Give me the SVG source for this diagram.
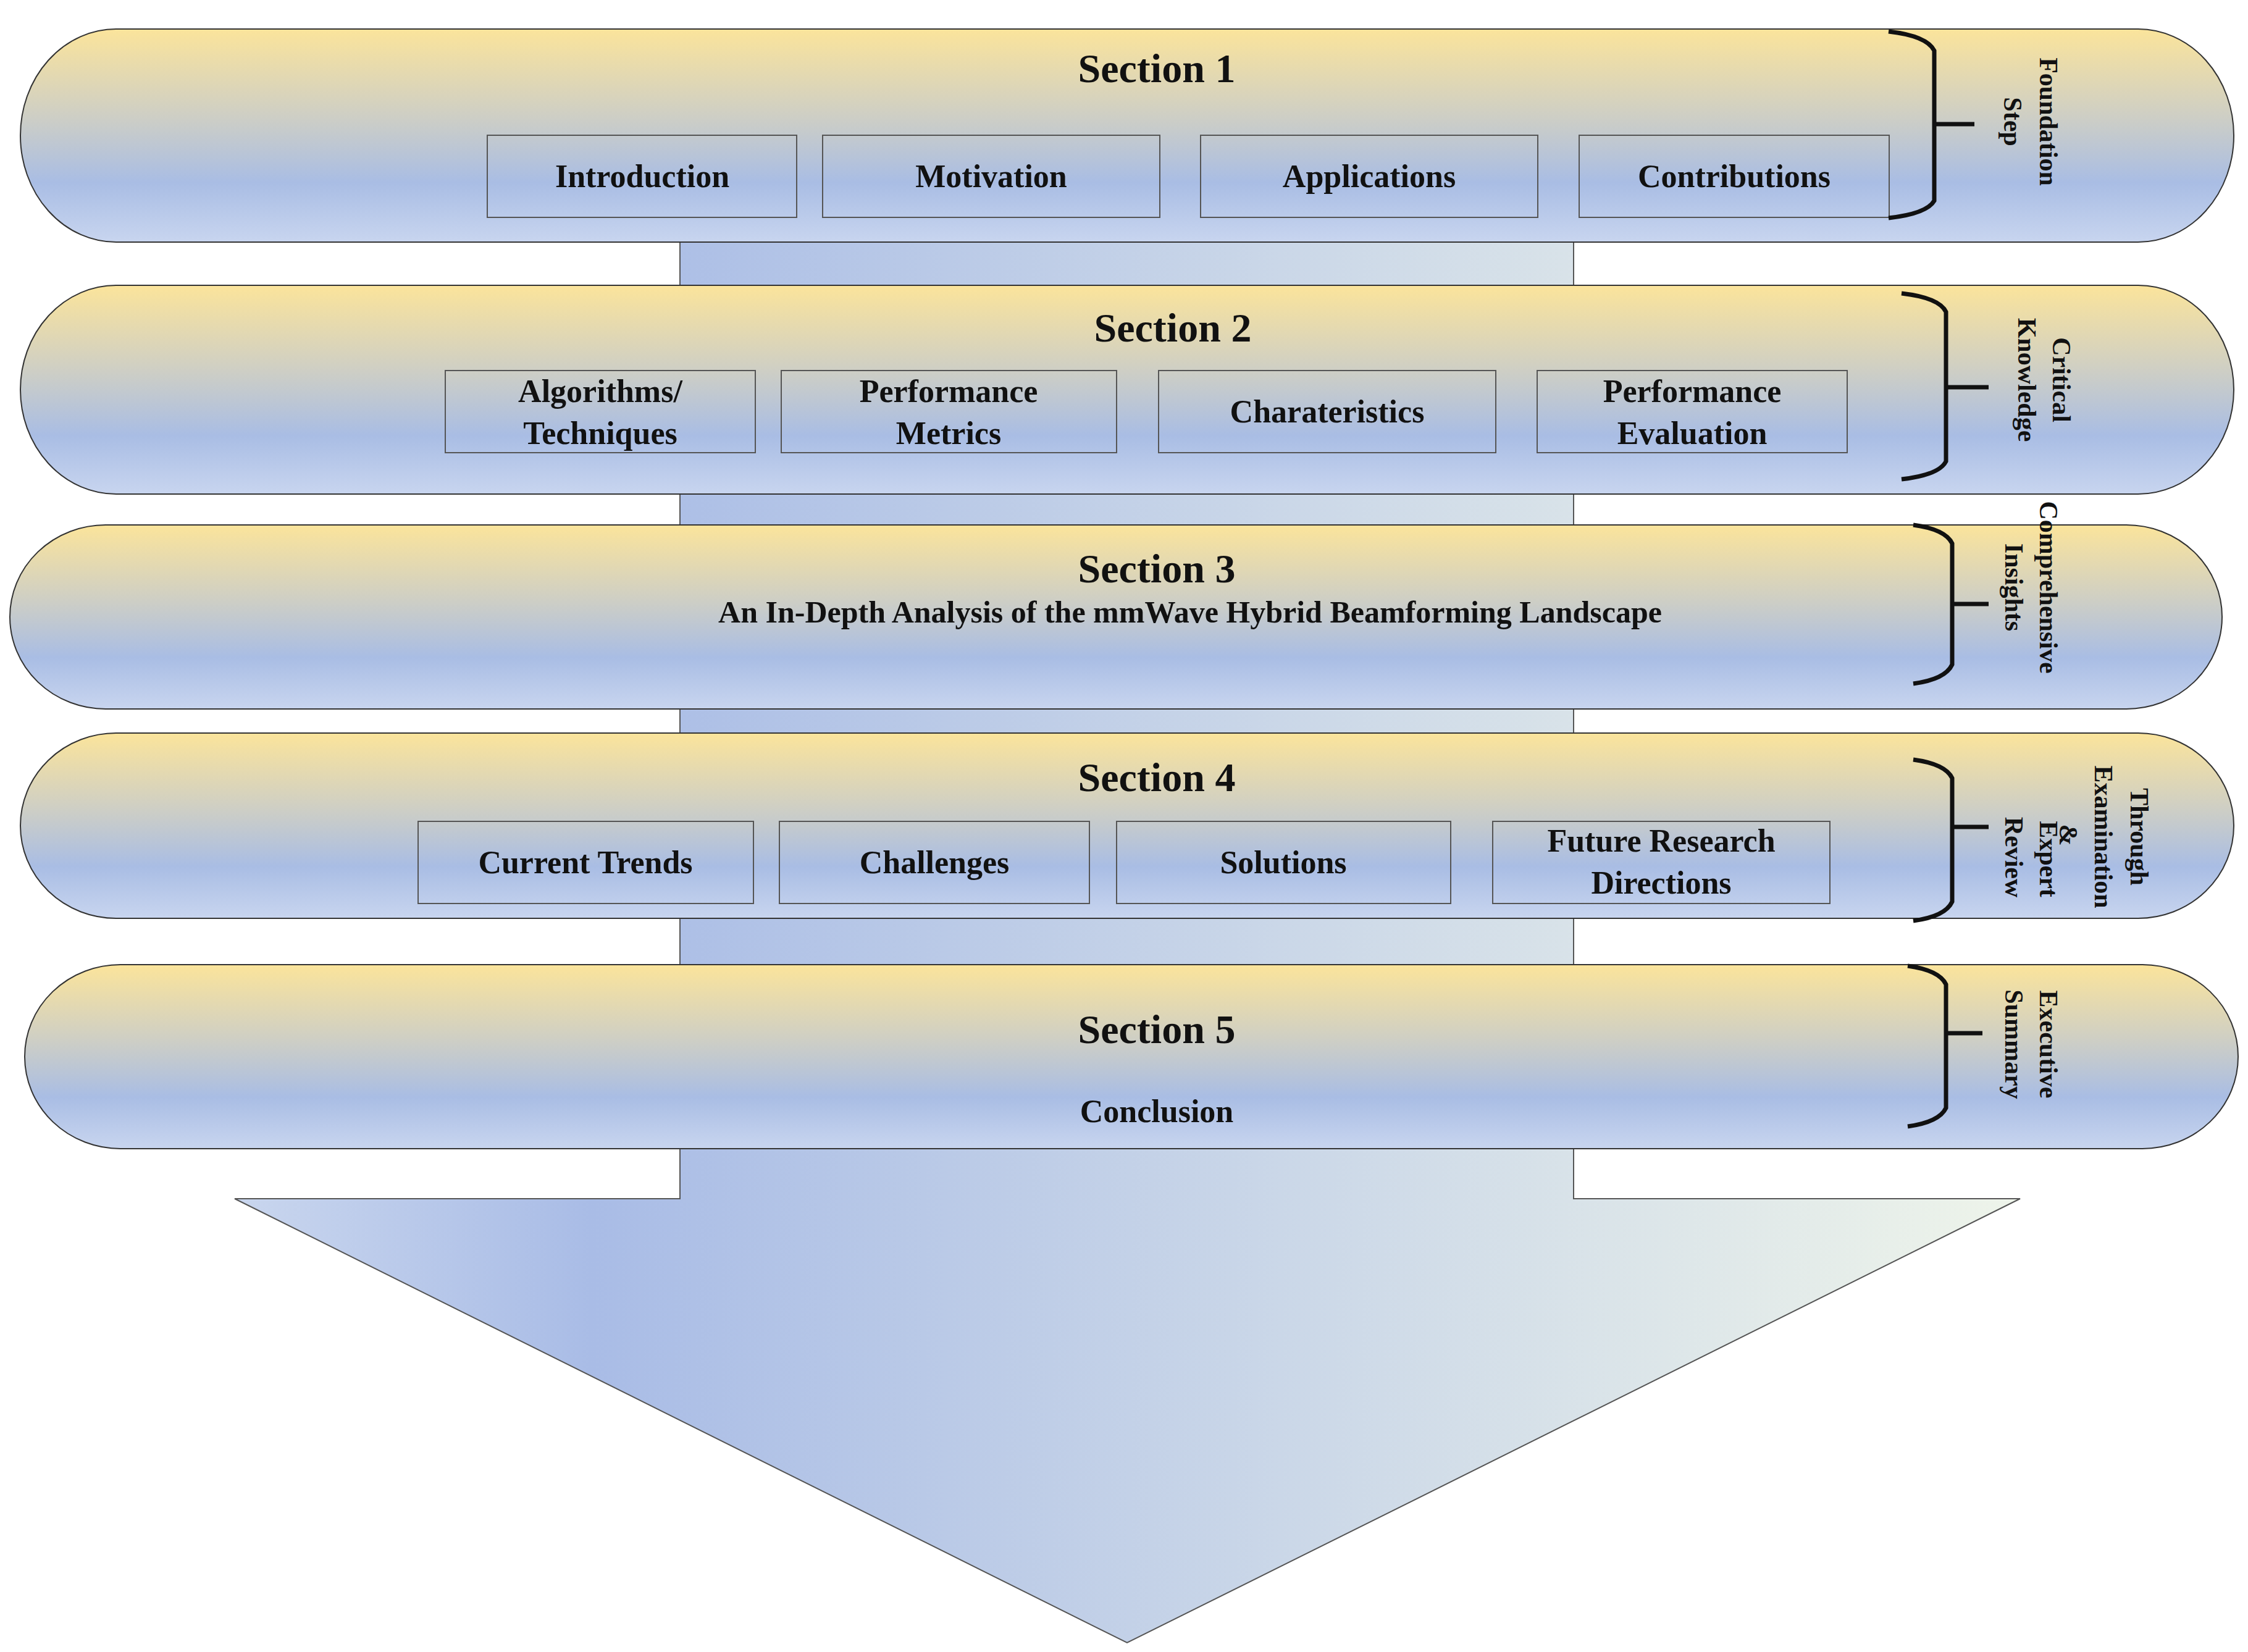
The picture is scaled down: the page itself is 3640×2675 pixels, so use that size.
<svg xmlns="http://www.w3.org/2000/svg" width="3640" height="2675" viewBox="0 0 3640 2675">
<defs>
<linearGradient id="band" x1="0" y1="0" x2="0" y2="1">
<stop offset="0" stop-color="#fbe49b"/><stop offset="0.4" stop-color="#cfcfc4"/><stop offset="0.72" stop-color="#a9bde4"/><stop offset="1" stop-color="#c8d5ef"/>
</linearGradient>
<linearGradient id="arrow" gradientUnits="userSpaceOnUse" x1="380" y1="0" x2="3271" y2="0">
<stop offset="0" stop-color="#c9d6ee"/><stop offset="0.2" stop-color="#a9bce6"/><stop offset="1" stop-color="#eef4ea"/>
</linearGradient>
<style>
.band{fill:url(#band);stroke:#333;stroke-width:2}
.box{fill:none;stroke:#555;stroke-width:2}
.t{font-family:"Liberation Serif","Times New Roman",serif;font-weight:bold;fill:#111;text-anchor:middle}
.sec{font-size:66px}
.lbl{font-size:52px}
.side{font-size:42px}
.br{fill:none;stroke:#111;stroke-width:7}
</style>
</defs>
<g id="arrow-shape">
<path d="M1101,392 L2548,392 L2548,1941 L3271,1941 L1825,2660 L380,1941 L1101,1941 Z" fill="url(#arrow)" stroke="#555" stroke-width="2"/>
</g>
<g id="section1">
<path class="band" d="M188,47 H3462 A155,172.5 0 0 1 3462,392 H188 A155,172.5 0 0 1 188,47 Z"/>
<text class="t sec" x="1873" y="133">Section 1</text>
<rect class="box" x="789" y="219" width="501" height="133"/><text class="t lbl" x="1040" y="303">Introduction</text>
<rect class="box" x="1332" y="219" width="546" height="133"/><text class="t lbl" x="1605" y="303">Motivation</text>
<rect class="box" x="1944" y="219" width="546" height="133"/><text class="t lbl" x="2217" y="303">Applications</text>
<rect class="box" x="2557" y="219" width="502" height="133"/><text class="t lbl" x="2808" y="303">Contributions</text>
<path class="br" d="M3058,51 Q3120,58 3132,82 V325 Q3120,346 3058,353 M3132,201 H3197"/>
<text class="t side" transform="rotate(90 3303 197)" x="3303" y="197">Foundation</text>
<text class="t side" transform="rotate(90 3245 197)" x="3245" y="197">Step</text>
</g>
<g id="section2">
<path class="band" d="M188,462 H3462 A155,169 0 0 1 3462,800 H188 A155,169 0 0 1 188,462 Z"/>
<text class="t sec" x="1899" y="553">Section 2</text>
<rect class="box" x="721" y="600" width="502" height="133"/><text class="t lbl" x="972" y="651">Algorithms/</text><text class="t lbl" x="972" y="719">Techniques</text>
<rect class="box" x="1265" y="600" width="543" height="133"/><text class="t lbl" x="1536" y="651">Performance</text><text class="t lbl" x="1536" y="719">Metrics</text>
<rect class="box" x="1876" y="600" width="546" height="133"/><text class="t lbl" x="2149" y="684">Charateristics</text>
<rect class="box" x="2489" y="600" width="502" height="133"/><text class="t lbl" x="2740" y="651">Performance</text><text class="t lbl" x="2740" y="719">Evaluation</text>
<path class="br" d="M3079,475 Q3140,482 3151,505 V747 Q3140,769 3079,776 M3151,627 H3220"/>
<text class="t side" transform="rotate(90 3324 615)" x="3324" y="615">Critical</text>
<text class="t side" transform="rotate(90 3268 615)" x="3268" y="615">Knowledge</text>
</g>
<g id="section3">
<path class="band" d="M171,850 H3443 A155,149 0 0 1 3443,1148 H171 A155,149 0 0 1 171,850 Z"/>
<text class="t sec" x="1873" y="943">Section 3</text>
<text class="t" font-size="50" x="1927" y="1008">An In-Depth Analysis of the mmWave Hybrid Beamforming Landscape</text>
<path class="br" d="M3098,850 Q3150,857 3161,880 V1076 Q3150,1100 3098,1107 M3161,978 H3220"/>
<text class="t side" transform="rotate(90 3303 951)" x="3303" y="951">Comprehensive</text>
<text class="t side" transform="rotate(90 3247 951)" x="3247" y="951">Insights</text>
</g>
<g id="section4">
<path class="band" d="M188,1187 H3462 A155,150 0 0 1 3462,1487 H188 A155,150 0 0 1 188,1187 Z"/>
<text class="t sec" x="1873" y="1281">Section 4</text>
<rect class="box" x="677" y="1330" width="543" height="133"/><text class="t lbl" x="948" y="1414">Current Trends</text>
<rect class="box" x="1262" y="1330" width="502" height="133"/><text class="t lbl" x="1513" y="1414">Challenges</text>
<rect class="box" x="1808" y="1330" width="541" height="133"/><text class="t lbl" x="2078" y="1414">Solutions</text>
<rect class="box" x="2417" y="1330" width="546" height="133"/><text class="t lbl" x="2690" y="1379">Future Research</text><text class="t lbl" x="2690" y="1447">Directions</text>
<path class="br" d="M3098,1230 Q3150,1237 3161,1260 V1460 Q3150,1484 3098,1491 M3161,1339 H3220"/>
<text class="t side" transform="rotate(90 3450 1355)" x="3450" y="1355">Through</text>
<text class="t side" transform="rotate(90 3392 1355)" x="3392" y="1355">Examination</text>
<text class="t side" transform="rotate(90 3335 1352)" x="3335" y="1352">&amp;</text>
<text class="t side" transform="rotate(90 3303 1391)" x="3303" y="1391">Expert</text>
<text class="t side" transform="rotate(90 3247 1388)" x="3247" y="1388">Review</text>
</g>
<g id="section5">
<path class="band" d="M195,1562 H3469 A155,149 0 0 1 3469,1860 H195 A155,149 0 0 1 195,1562 Z"/>
<text class="t sec" x="1873" y="1689">Section 5</text>
<text class="t lbl" x="1873" y="1817">Conclusion</text>
<path class="br" d="M3089,1564 Q3140,1571 3151,1594 V1794 Q3140,1817 3089,1824 M3151,1673 H3210"/>
<text class="t side" transform="rotate(90 3303 1691)" x="3303" y="1691">Executive</text>
<text class="t side" transform="rotate(90 3247 1691)" x="3247" y="1691">Summary</text>
</g>
<g id="connectors"></g>
</svg>
